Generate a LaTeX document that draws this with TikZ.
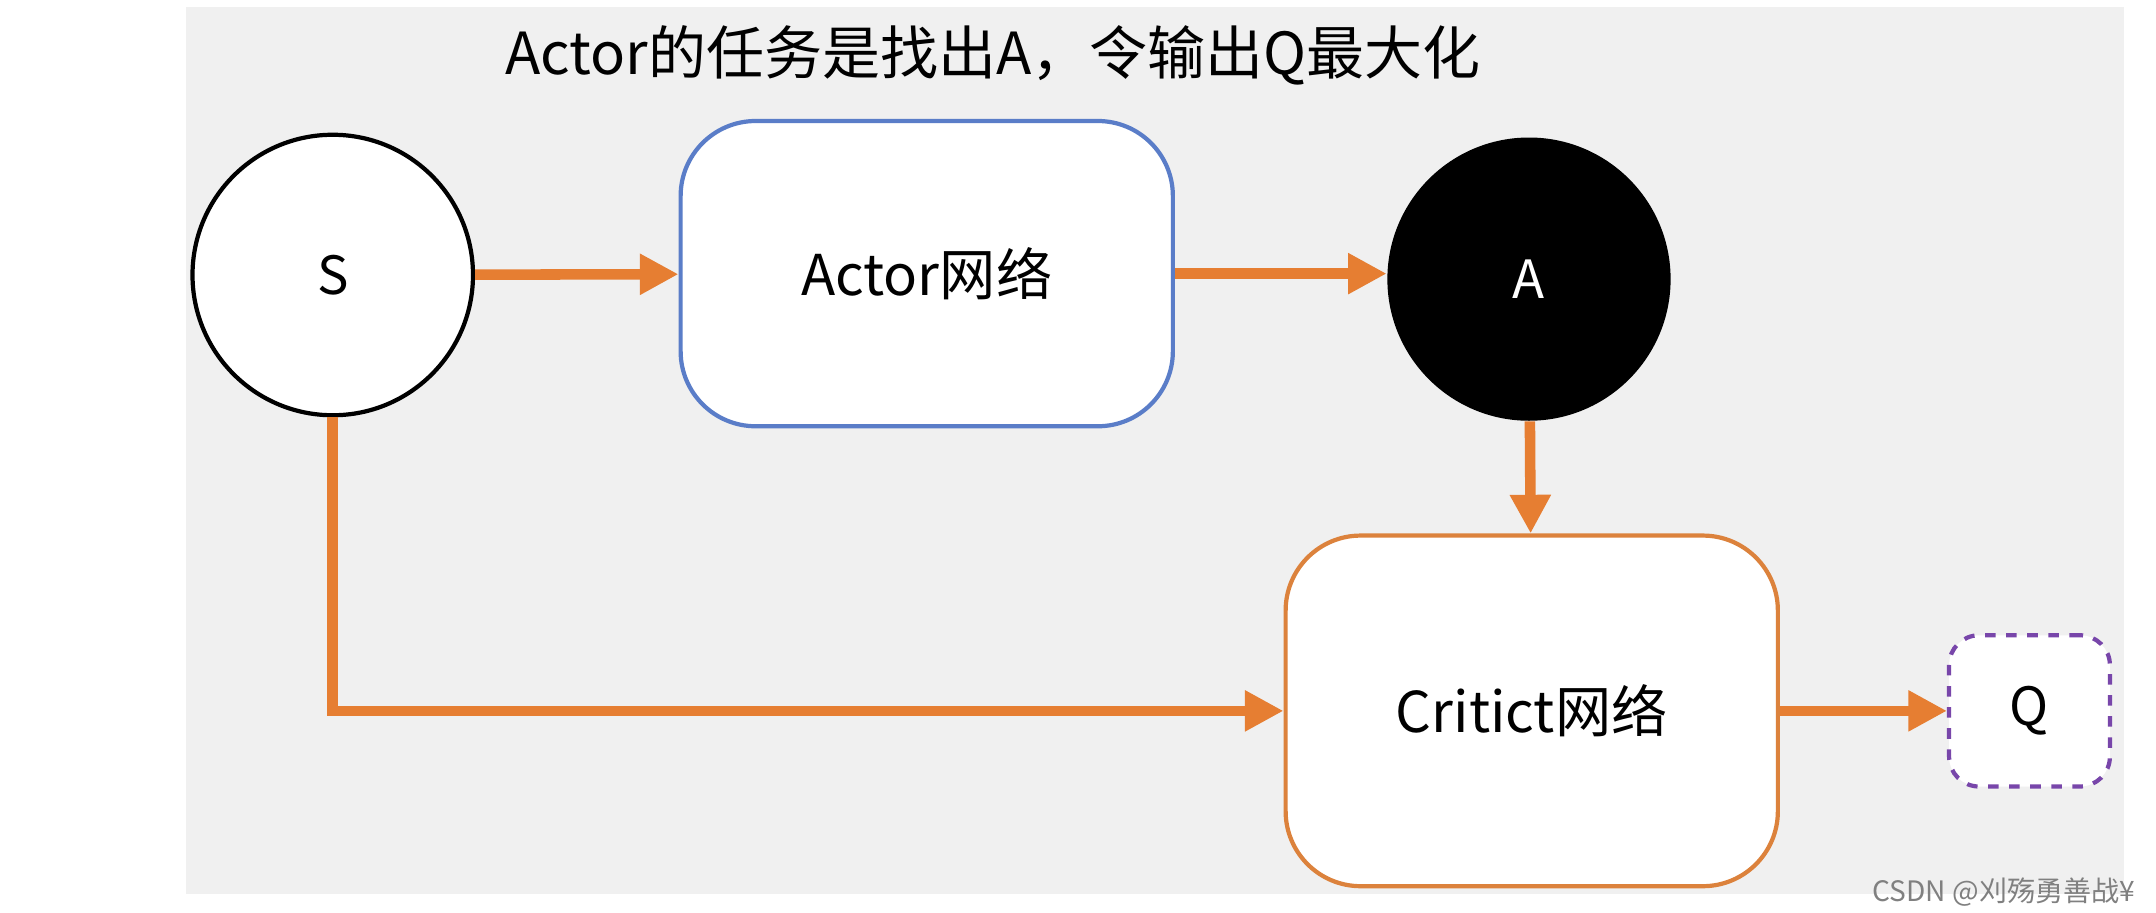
\documentclass[tikz,border=0pt]{standalone}
\usepackage{fontspec}
\setmainfont{Noto Sans CJK SC}
\usetikzlibrary{arrows.meta}
\definecolor{bgray}{RGB}{240,240,240}
\definecolor{arrorange}{RGB}{230,126,50}
\definecolor{boxblue}{RGB}{90,125,200}
\definecolor{boxorange}{RGB}{220,130,60}
\definecolor{qpurple}{RGB}{120,70,170}
\begin{document}
\begin{tikzpicture}[x=0.01375cm, y=-0.01375cm,
  flow/.style={-{Triangle[length=11pt,width=11pt]}, line width=3pt, draw=arrorange},
  net/.style={draw, line width=1.2pt, rounded corners=0.75cm, fill=white, font=\fontsize{16}{18}\selectfont},
  every node/.style={font=\fontsize{15}{18}\selectfont}]
\useasboundingbox (0,0) rectangle (1568,664);
\fill[bgray] (135,5) rectangle (1545,650);
\node[font=\fontsize{16.5}{20}\selectfont] (title) at (722,40) {Actor的任务是找出A，令输出Q最大化};
\node[circle, draw, line width=1.2pt, fill=white, minimum size=204*0.01375cm] (s) at (242,200) {S};
\node[net, draw=boxblue, minimum width=358*0.01375cm, minimum height=222*0.01375cm] (actor) at (674,199) {Actor网络};
\node[circle, fill=black, text=white, minimum size=206*0.01375cm] (a) at (1112,203) {A};
\node[net, draw=boxorange, minimum width=358*0.01375cm, minimum height=255*0.01375cm] (critic) at (1114,517) {Critict网络};
\node[draw=qpurple, dashed, line width=1.2pt, rounded corners=0.3cm, fill=white, minimum width=117*0.01375cm, minimum height=110*0.01375cm] (q) at (1476,517) {Q};
\node[text=gray, font=\fontsize{8}{9}\selectfont, anchor=east] (mark) at (1562,649) {CSDN @刈殇勇善战¥};
\draw[flow] (s) -- (actor);
\draw[flow] (actor.east) -- (a.west |- actor.east);
\draw[flow] (a) -- (critic);
\draw[flow] (s.south) |- (critic.west);
\draw[flow] (critic) -- (q);
\end{tikzpicture}
\end{document}
